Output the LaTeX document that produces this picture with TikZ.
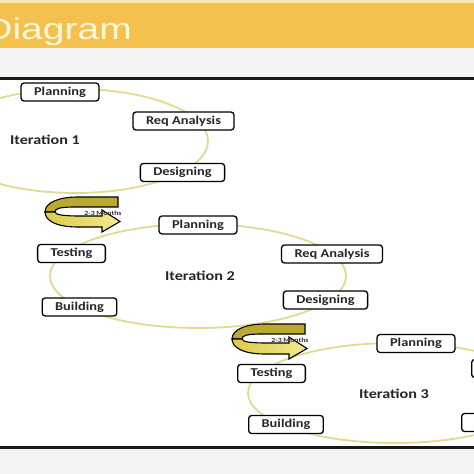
\documentclass[tikz,border=0pt]{standalone}
\usepackage{fontspec}
\setmainfont{Carlito}
\newfontfamily\titlefont[FakeStretch=1.3]{Liberation Sans}
\newfontfamily\boxfont[FakeStretch=1.2]{Carlito}
\definecolor{bandorange}{HTML}{F4C04E}
\definecolor{topstrip}{HTML}{FBE6B0}
\definecolor{panelgrey}{HTML}{F3F4F6}
\definecolor{titlecream}{HTML}{FFF6D8}
\definecolor{cyclegold}{HTML}{E2DA90}
\definecolor{arrowback}{HTML}{B9AA2E}
\definecolor{arrowfrontA}{HTML}{DCCB48}
\definecolor{arrowfrontB}{HTML}{F3EA90}
\begin{document}
\begin{tikzpicture}[x=1pt, y=-1pt,
    stage/.style={draw=black, line width=1.3pt, rounded corners=3pt, fill=white,
      font=\boxfont\bfseries\fontsize{12}{12}\selectfont, text=black!85,
      inner xsep=13pt, inner ysep=0pt, minimum height=18pt},
    itertext/.style={font=\boxfont\bfseries\fontsize{13.5}{14}\selectfont, text=black!85},
    cycleline/.style={draw=cyclegold, line width=1.8pt},
    months arrow/.pic={
      % back half of the turn
      \draw[line width=1.1pt, fill=arrowback] (0,15) .. controls (0,5) and (15,0) .. (33,0)
        -- (73,0) -- (73,10) -- (30,10) .. controls (13,10) and (10,12) .. (10,15) -- cycle;
      % front half with the head
      \draw[line width=1.1pt, left color=arrowfrontA, right color=arrowfrontB]
        (0,15) .. controls (0,23) and (10,30) .. (33,30) -- (57,30) -- (57,35) -- (75,24.5)
        -- (57,13) -- (57,19) -- (35,19) .. controls (20,19) and (10,18) .. (10,15) -- cycle;
      \node[font=\boxfont\bfseries\fontsize{6.5}{7}\selectfont, text=black!80, inner sep=0pt]
        at (58,16) {2-3 Months};
    }]
    \useasboundingbox (0,0) rectangle (474,474);
    \clip (0,0) rectangle (474,474);

    % Slide background
    \fill[topstrip] (0,0) rectangle (474,3);
    \fill[bandorange] (0,3) rectangle (474,48);
    \fill[panelgrey] (0,48) rectangle (474,77);
    \fill[black!90] (0,77) rectangle (474,80);
    \fill[white] (0,80) rectangle (474,446);
    \fill[black!90] (0,446) rectangle (474,449);
    \fill[panelgrey] (0,449) rectangle (474,474);
    \node[anchor=base east, inner sep=0pt, text=titlecream,
      font=\titlefont\fontsize{30}{30}\selectfont] (title) at (132,39) {Diagram};

    % Cycles
    \draw[cycleline] (75,141) ellipse [x radius=133pt, y radius=52pt];
    \draw[cycleline] (198,276) ellipse [x radius=148pt, y radius=52pt];
    \draw[cycleline] (395,393) ellipse [x radius=147pt, y radius=50pt];

    % Iteration 1
    \node[stage] (plan1) at (60,92) {Planning};
    \node[stage] (req1) at (183.5,121) {Req Analysis};
    \node[stage] (des1) at (182.5,172.5) {Designing};
    \node[itertext] (iter1) at (45,140) {Iteration 1};

    % 2-3 months gaps
    \pic at (45,197) {months arrow};
    \pic at (232,324) {months arrow};

    % Iteration 2
    \node[stage] (plan2) at (198,225) {Planning};
    \node[stage] (test2) at (71.5,253.5) {Testing};
    \node[stage] (build2) at (79.5,307) {Building};
    \node[stage] (req2) at (332,254) {Req Analysis};
    \node[stage] (des2) at (325.5,300) {Designing};
    \node[itertext] (iter2) at (200,276) {Iteration 2};

    % Iteration 3 (cut off at the right)
    \node[stage] (plan3) at (416,343.5) {Planning};
    \node[stage] (test3) at (271.5,373.5) {Testing};
    \node[stage] (build3) at (286,424.5) {Building};
    \node[stage, anchor=west] (req3) at (471,368.5) {Req Analysis};
    \node[stage, anchor=west] (des3) at (461,422.5) {Designing};
    \node[itertext] (iter3) at (394,394) {Iteration 3};
\end{tikzpicture}
\end{document}
